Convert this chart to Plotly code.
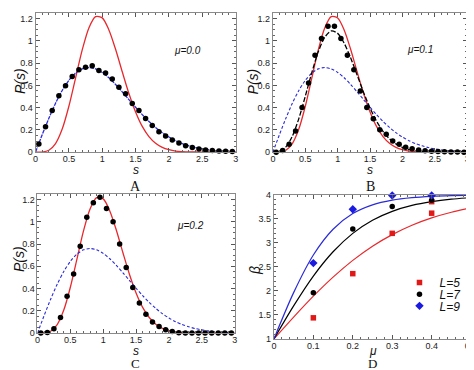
import plotly.graph_objects as go

# ---------------- data ----------------
# theory curves (s grid)
s_grid = [0.0, 0.1, 0.2, 0.3, 0.4, 0.5, 0.6, 0.7, 0.8, 0.9, 1.0, 1.1, 1.2, 1.3, 1.4,
          1.5, 1.6, 1.7, 1.8, 1.9, 2.0, 2.1, 2.2, 2.3, 2.4, 2.5, 2.6, 2.7, 2.8, 2.9, 3.0]
goe_curve = [0.0, 0.156, 0.304, 0.439, 0.554, 0.645, 0.710, 0.748, 0.760, 0.748, 0.716,
             0.668, 0.608, 0.542, 0.472, 0.403, 0.337, 0.276, 0.222, 0.175, 0.136,
             0.103, 0.077, 0.057, 0.041, 0.029, 0.020, 0.014, 0.009, 0.006, 0.004]
gse_curve = [0.0, 0.001, 0.017, 0.077, 0.207, 0.412, 0.665, 0.918, 1.116, 1.217, 1.206,
             1.098, 0.924, 0.722, 0.527, 0.361, 0.231, 0.140, 0.080, 0.043, 0.022,
             0.010, 0.005, 0.002, 0.001, 0.0, 0.0, 0.0, 0.0, 0.0, 0.0]
mid_curve = [0.0, 0.006, 0.047, 0.144, 0.301, 0.502, 0.714, 0.901, 1.032, 1.089, 1.067,
             0.979, 0.847, 0.693, 0.537, 0.396, 0.279, 0.187, 0.120, 0.074, 0.043,
             0.024, 0.013, 0.007, 0.003, 0.002, 0.001, 0.0, 0.0, 0.0, 0.0]

# histogram points
s_pts = [0.05, 0.15, 0.25, 0.35, 0.45, 0.55, 0.65, 0.75, 0.85, 0.95, 1.05, 1.15, 1.25,
         1.35, 1.45, 1.55, 1.65, 1.75, 1.85, 1.95, 2.05, 2.15, 2.25, 2.35, 2.45, 2.55,
         2.65, 2.75, 2.85, 2.95]
p_mu00 = [0.073, 0.227, 0.373, 0.507, 0.597, 0.679, 0.740, 0.763, 0.775, 0.734, 0.711,
          0.658, 0.583, 0.524, 0.437, 0.373, 0.303, 0.239, 0.184, 0.146, 0.108, 0.082,
          0.058, 0.041, 0.029, 0.020, 0.015, 0.010, 0.007, 0.005]
p_mu01 = [0.0, 0.015, 0.070, 0.190, 0.400, 0.620, 0.870, 1.020, 1.130, 1.130, 1.020,
          0.870, 0.740, 0.550, 0.400, 0.300, 0.200, 0.160, 0.100, 0.070, 0.045, 0.030,
          0.020, 0.012, 0.008, 0.005, 0.003, 0.002, 0.001, 0.0]
p_mu02 = [0.0, 0.005, 0.040, 0.140, 0.330, 0.530, 0.780, 1.040, 1.170, 1.220, 1.120,
          1.000, 0.800, 0.590, 0.410, 0.270, 0.170, 0.100, 0.060, 0.030, 0.015, 0.004,
          0.002, 0.001, 0.0, 0.0, 0.0, 0.0, 0.0, 0.0]

# panel D
mu_grid = [0.0, 0.05, 0.1, 0.15, 0.2, 0.25, 0.3, 0.35, 0.4, 0.45, 0.5]
beta_fit_L5 = [1.0, 1.455, 1.891, 2.288, 2.637, 2.932, 3.174, 3.370, 3.523, 3.640, 3.731]
beta_fit_L7 = [1.0, 1.689, 2.310, 2.816, 3.200, 3.473, 3.659, 3.781, 3.860, 3.912, 3.944]
beta_fit_L9 = [1.0, 1.965, 2.749, 3.285, 3.612, 3.794, 3.892, 3.944, 3.971, 3.985, 3.992]
mu_L5 = [0.1, 0.2, 0.3, 0.4, 0.4]
beta_L5 = [1.44, 2.36, 3.20, 3.62, 3.86]
mu_L7 = [0.1, 0.2, 0.3, 0.4]
beta_L7 = [1.96, 3.29, 3.76, 3.89]
mu_L9 = [0.1, 0.2, 0.3, 0.4, 0.5]
beta_L9 = [2.58, 3.70, 3.99, 3.99, 3.99]

# ---------------- styling ----------------
W, H = 474, 370
RED = "#e8282c"
BLUE = "#2a2ad8"
BLACK = "#000000"
FRAME = "#8a8a8a"
TICKFONT = dict(family="Liberation Sans, Arial, sans-serif", size=9, color="#222")


def px(x):
    return x / W


def py(y):
    return 1 - y / H


fig = go.Figure()

panels = {
    # name: (x0, x1, ytop, ybottom) in pixels
    "A": (25, 229, 0, 143),
    "B": (267, 465, 0, 143),
    "C": (27, 228, 186, 329),
    "D": (268, 469, 187, 335),
}


def axis_common():
    return dict(showline=True, linecolor=FRAME, linewidth=1, mirror="ticks",
                ticks="inside", ticklen=4, tickcolor="#555", tickwidth=1,
                showgrid=False, zeroline=False, tickfont=TICKFONT)


layout = dict(width=W, height=H, margin=dict(l=0, r=0, t=0, b=0),
              paper_bgcolor="white", plot_bgcolor="white")

for i, key in enumerate(["A", "B", "C", "D"]):
    x0, x1, yt, yb = panels[key]
    n = "" if i == 0 else str(i + 1)
    xa = axis_common()
    ya = axis_common()
    xa.update(domain=[px(x0), px(x1)], anchor="y" + n, ticklabelstandoff=-2)
    ya.update(domain=[py(yb), py(yt)], anchor="x" + n)
    if key != "D":
        xa.update(range=[0, 3], dtick=0.5, tick0=0,
                  minor=dict(dtick=0.1, ticks="inside", ticklen=2, tickcolor="#666"))
        ya.update(range=[0, 1.25], dtick=0.2, tick0=0,
                  minor=dict(dtick=0.05, ticks="inside", ticklen=2, tickcolor="#666"))
    else:
        xa.update(range=[0, 0.5], dtick=0.1, tick0=0,
                  minor=dict(dtick=0.02, ticks="inside", ticklen=2, tickcolor="#666"))
        ya.update(range=[1, 4], dtick=0.5, tick0=1,
                  minor=dict(dtick=0.1, ticks="inside", ticklen=2, tickcolor="#666"))
    layout["xaxis" + n] = xa
    layout["yaxis" + n] = ya


def add_line(x, y, color, n, dash="solid", width=1.3):
    fig.add_trace(go.Scatter(x=x, y=y, mode="lines", line=dict(color=color, width=width, dash=dash,
                                                               shape="spline", smoothing=0.8),
                             xaxis="x" + n, yaxis="y" + n, showlegend=False,
                             cliponaxis=True, hoverinfo="skip"))


def add_pts(x, y, n, color=BLACK, symbol="circle", size=5.5, name=None, legend=None):
    fig.add_trace(go.Scatter(x=x, y=y, mode="markers",
                             marker=dict(color=color, symbol=symbol, size=size, line=dict(width=0)),
                             xaxis="x" + n, yaxis="y" + n, cliponaxis=False,
                             showlegend=name is not None, name=name or "",
                             legend=legend or "legend"))


# Panel A
add_line(s_grid, gse_curve, RED, "")
add_line(s_grid, goe_curve, BLUE, "", dash="4px,1px", width=1.3)
add_pts(s_pts, p_mu00, "")
# Panel B
add_line(s_grid, gse_curve, RED, "2")
add_line(s_grid, goe_curve, BLUE, "2", dash="3px,2px", width=1.1)
add_line(s_grid, mid_curve, BLACK, "2", dash="5px,2px", width=1.3)
add_pts(s_pts, p_mu01, "2")
# Panel C
add_line(s_grid, gse_curve, RED, "3")
add_line(s_grid, goe_curve, BLUE, "3", dash="3px,2px", width=1.1)
add_pts(s_pts, p_mu02, "3")
# Panel D
add_line(mu_grid, beta_fit_L5, RED, "4", width=1.2)
add_line(mu_grid, beta_fit_L7, BLACK, "4", width=1.2)
add_line(mu_grid, beta_fit_L9, BLUE, "4", width=1.2)
add_pts(mu_L5, beta_L5, "4", color="#e01818", symbol="square", size=5.5, name="<i>L=5</i>", legend="legend")
add_pts(mu_L7, beta_L7, "4", color=BLACK, symbol="circle", size=5.5, name="<i>L=7</i>", legend="legend2")
add_pts(mu_L9, beta_L9, "4", color="#1a1ae0", symbol="diamond", size=6.5, name="<i>L=9</i>", legend="legend3")

LEGFONT = dict(family="Liberation Sans, Arial, sans-serif", size=12, color="#111")
for lg, ycen in (("legend", 277), ("legend2", 289), ("legend3", 301)):
    layout[lg] = dict(x=px(396), y=py(ycen), xanchor="left", yanchor="middle",
                      bgcolor="rgba(0,0,0,0)", borderwidth=0, font=LEGFONT,
                      itemwidth=30, tracegroupgap=0)

fig.update_layout(**layout)

ann = []
ITAL = dict(family="Liberation Sans, Arial, sans-serif", color="#111")
SERIF = dict(family="Liberation Serif, Times New Roman, serif", size=14, color="#111")


def pa(text, x, y, font, angle=0, yanchor="middle"):
    ann.append(dict(text=text, x=px(x), y=py(y), xref="paper", yref="paper",
                    showarrow=False, xanchor="center", yanchor=yanchor,
                    font=font, textangle=angle))


pa("<i>s</i>", 127, 161, dict(ITAL, size=12))
pa("A", 127, 178, SERIF)
pa("<i>s</i>", 366, 161, dict(ITAL, size=12))
pa("B", 366, 178, SERIF)
pa("<i>s</i>", 127, 347, dict(ITAL, size=12))
pa("C", 127, 370, dict(SERIF, size=13), yanchor="bottom")
pa("<i>μ</i>", 369, 347, dict(ITAL, size=12))
pa("D", 369, 370, dict(SERIF, size=13), yanchor="bottom")
pa("<i>P(s)</i>", 9, 70, dict(ITAL, size=14), -90)
pa("<i>P(s)</i>", 247, 70, dict(ITAL, size=14), -90)
pa("<i>P(s)</i>", 8, 253, dict(ITAL, size=14), -90)
pa("<i>β</i>", 249, 265, dict(ITAL, size=14), -90)

for n, (xv, yv, t) in zip(["", "2", "3"], [(2.28, 0.91, "μ=0.0"), (2.27, 0.92, "μ=0.1"),
                                           (2.33, 0.97, "μ=0.2")]):
    ann.append(dict(text="<i>" + t + "</i>", x=xv, y=yv, xref="x" + n, yref="y" + n,
                    showarrow=False, font=dict(ITAL, size=10)))

fig.update_layout(annotations=ann)
fig.write_html("out.html")
